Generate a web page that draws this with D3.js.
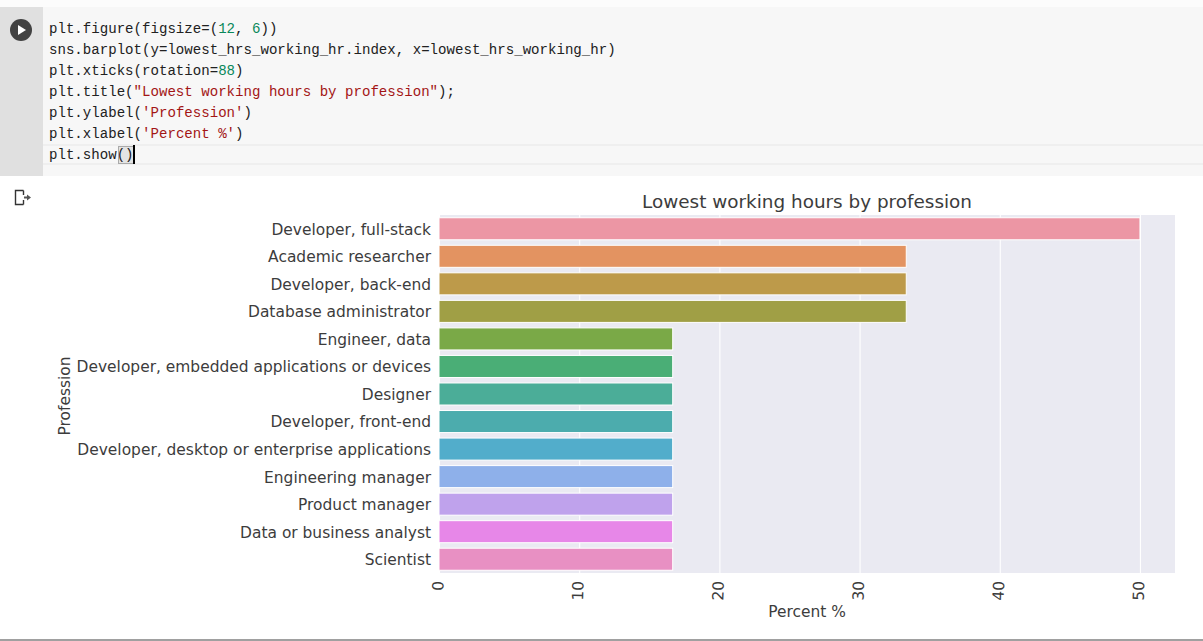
<!DOCTYPE html>
<html lang="en">
<head>
    <meta charset="UTF-8">
    <title>Lowest working hours by profession</title>
    <script src="https://d3js.org/d3.v7.min.js"></script>
    <style>
        body {
            margin: 0;
            padding: 0;
            background-color: #fff;
            overflow: hidden;
        }
        svg {
            display: block;
        }
        .code {
            font-family: "Liberation Mono", monospace;
            font-size: 14.1px;
            fill: #212121;
        }
        .num { fill: #09885a; }
        .str { fill: #a31515; }
        .chart-text {
            font-family: "DejaVu Sans", sans-serif;
            fill: #3c3c3c;
        }
        .tick text {
            font-family: "DejaVu Sans", sans-serif;
            font-size: 15.45px;
            fill: #3c3c3c;
        }
        .domain {
            display: none;
        }
    </style>
</head>
<body>
    <div id="chart"></div>
    <script>
        const professions = [
            "Developer, full-stack",
            "Academic researcher",
            "Developer, back-end",
            "Database administrator",
            "Engineer, data",
            "Developer, embedded applications or devices",
            "Designer",
            "Developer, front-end",
            "Developer, desktop or enterprise applications",
            "Engineering manager",
            "Product manager",
            "Data or business analyst",
            "Scientist"
        ];
        const percents = [50, 33.33, 33.33, 33.33, 16.67, 16.67, 16.67, 16.67, 16.67, 16.67, 16.67, 16.67, 16.67];
        const barColors = [
            "#ec96a4", "#e39361", "#bd9a4a", "#a09f45", "#7aa947", "#4aae76", "#4bad98",
            "#4cacad", "#52adcb", "#8eb0ea", "#bfa2ec", "#e787e8", "#e890c3"
        ];
        const xTicks = [0, 10, 20, 30, 40, 50];

        // code cell text, each line is a list of [text, class]
        const codeLines = [
            [["plt.figure(figsize=(", ""], ["12", "num"], [", ", ""], ["6", "num"], ["))", ""]],
            [["sns.barplot(y=lowest_hrs_working_hr.index, x=lowest_hrs_working_hr)", ""]],
            [["plt.xticks(rotation=", ""], ["88", "num"], [")", ""]],
            [["plt.title(", ""], ["\"Lowest working hours by profession\"", "str"], [");", ""]],
            [["plt.ylabel(", ""], ["'Profession'", "str"], [")", ""]],
            [["plt.xlabel(", ""], ["'Percent %'", "str"], [")", ""]],
            [["plt.show()", ""]]
        ];

        const width = 1203;
        const height = 641;

        const svg = d3.select("#chart")
            .append("svg")
            .attr("width", width)
            .attr("height", height);

        // notebook cell
        svg.append("rect").attr("width", width).attr("height", 7).attr("fill", "#fcfcfc");
        svg.append("rect").attr("y", 7).attr("width", width).attr("height", 169).attr("fill", "#f7f7f7");
        svg.append("rect").attr("y", 7).attr("width", 43).attr("height", 169).attr("fill", "#e0e0e0");
        svg.append("rect").attr("x", 43).attr("y", 144).attr("width", width - 43).attr("height", 2).attr("fill", "#efefef");
        svg.append("rect").attr("x", 43).attr("y", 163).attr("width", width - 43).attr("height", 2).attr("fill", "#efefef");

        svg.append("circle").attr("cx", 21).attr("cy", 30).attr("r", 11).attr("fill", "#424242");
        svg.append("path").attr("d", "M18,25L26,30L18,35Z").attr("fill", "#fff");

        svg.selectAll(".code")
            .data(codeLines)
            .enter().append("text")
            .attr("class", "code")
            .attr("x", 49)
            .attr("y", (d, i) => 33 + i * 21)
            .style("white-space", "pre")
            .selectAll("tspan")
            .data(d => d)
            .enter().append("tspan")
            .attr("class", d => d[1])
            .text(d => d[0]);

        // bracket match box and cursor on the last line
        svg.append("rect").attr("x", 118.5).attr("y", 146.5).attr("width", 15).attr("height", 17)
            .attr("fill", "#000").attr("fill-opacity", 0.08).attr("stroke", "#aaa");
        svg.append("rect").attr("x", 133).attr("y", 145).attr("width", 2).attr("height", 19).attr("fill", "#000");

        // output icon
        svg.append("path")
            .attr("d", "M23.5,190.5H15.5V204.5H23.5M23.5,190.5V195M23.5,200V204.5")
            .attr("fill", "none")
            .attr("stroke", "#333")
            .attr("stroke-width", 1.4);
        svg.append("path").attr("d", "M24,196.5H27V194.5L31,197.5L27,200.5V198.5H24Z").attr("fill", "#555");

        // bottom border of the output
        svg.append("rect").attr("y", 639).attr("width", width).attr("height", 2).attr("fill", "#a0a0a0");

        // plot
        const plot = { left: 439, right: 1175, top: 215, bottom: 573 };

        const x = d3.scaleLinear()
            .domain([0, 52.5])
            .range([plot.left, plot.right]);

        const y = d3.scaleBand()
            .domain(professions)
            .range([plot.top, plot.bottom])
            .paddingInner(0.2)
            .paddingOuter(0.1);

        svg.append("rect")
            .attr("x", plot.left)
            .attr("y", plot.top)
            .attr("width", plot.right - plot.left)
            .attr("height", plot.bottom - plot.top)
            .attr("fill", "#eaeaf2");

        const xAxis = svg.append("g")
            .attr("transform", `translate(0,${plot.bottom})`)
            .call(d3.axisBottom(x).tickValues(xTicks).tickSize(0));
        xAxis.selectAll(".tick line")
            .attr("y1", plot.top - plot.bottom)
            .attr("y2", 0)
            .attr("stroke", "#fff")
            .attr("stroke-width", 1.1);
        xAxis.selectAll(".tick text")
            .attr("text-anchor", "end")
            .attr("dominant-baseline", "central")
            .attr("dy", null)
            .attr("y", null)
            .attr("transform", "translate(-1,8) rotate(-88)");

        const yAxis = svg.append("g")
            .attr("transform", `translate(${plot.left},1)`)
            .call(d3.axisLeft(y).tickSize(0).tickPadding(8));

        svg.selectAll(".bar")
            .data(professions)
            .enter().append("rect")
            .attr("class", "bar")
            .attr("x", plot.left)
            .attr("y", d => y(d))
            .attr("width", (d, i) => x(percents[i]) - x(0))
            .attr("height", y.bandwidth())
            .attr("fill", (d, i) => barColors[i])
            .attr("stroke", "#fff")
            .attr("stroke-width", 1);

        svg.append("text")
            .attr("class", "chart-text")
            .attr("x", (plot.left + plot.right) / 2)
            .attr("y", 207.5)
            .attr("text-anchor", "middle")
            .attr("font-size", 18.4)
            .text("Lowest working hours by profession");

        svg.append("text")
            .attr("class", "chart-text")
            .attr("x", (plot.left + plot.right) / 2)
            .attr("y", 617)
            .attr("text-anchor", "middle")
            .attr("font-size", 15.45)
            .text("Percent %");

        svg.append("text")
            .attr("class", "chart-text")
            .attr("transform", `translate(70,${(plot.top + plot.bottom) / 2 + 2}) rotate(-90)`)
            .attr("text-anchor", "middle")
            .attr("font-size", 15.45)
            .text("Profession");
    </script>
</body>
</html>
